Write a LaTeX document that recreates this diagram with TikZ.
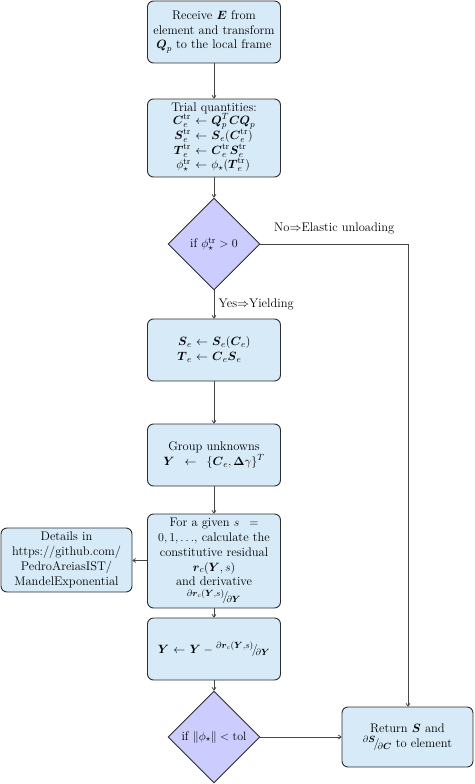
\documentclass[tikz,border=0pt]{standalone}
\usepackage{amsmath}
\usetikzlibrary{shapes.geometric,arrows.meta}
\definecolor{boxfill}{RGB}{214,234,248}
\definecolor{dfill}{RGB}{204,204,255}
\definecolor{edge}{RGB}{45,45,45}
\definecolor{conn}{RGB}{70,70,70}
\newcommand{\bs}[1]{\boldsymbol{#1}}
\newcommand{\nfr}[2]{{}^{#1}\!/\!{}_{#2}}
\begin{document}
\begin{tikzpicture}[x=1pt,y=-1pt,
  every node/.style={font=\fontsize{12.5}{14.8}\selectfont},
  procbox/.style={draw=edge,line width=0.9pt,fill=boxfill,rounded corners=6pt,
    minimum width=133pt,text width=126pt,align=center,inner sep=2pt},
  decide/.style={draw=edge,line width=0.9pt,fill=dfill,diamond,
    minimum width=92pt,minimum height=92pt,inner sep=0pt,align=center},
  flow/.style={draw=conn,line width=0.8pt,-{To[length=3.5pt,width=4.5pt]}},
  lbl/.style={font=\fontsize{12.5}{14.8}\selectfont}]
\useasboundingbox (0,0) rectangle (474,784);
\node[procbox,minimum height=62pt] (recv) at (214,32)
  {Receive $\bs{E}$ from element and transform $\bs{Q}_p$ to the local frame};
\node[procbox,minimum height=78pt,inner sep=1pt] (trial) at (214,138)
  {Trial quantities:\\[-2pt]
   $\renewcommand{\arraystretch}{0.88}\begin{array}{@{}r@{\ \leftarrow\ }l@{}}
   \bs{C}_e^{\rm tr} & \bs{Q}_p^T\bs{C}\bs{Q}_p\\
   \bs{S}_e^{\rm tr} & \bs{S}_e(\bs{C}_e^{\rm tr})\\
   \bs{T}_e^{\rm tr} & \bs{C}_e^{\rm tr}\bs{S}_e^{\rm tr}\\
   \phi_\star^{\rm tr} & \phi_\star(\bs{T}_e^{\rm tr})
   \end{array}$};
\node[decide] (ifphi) at (214,244) {if $\phi_\star^{\rm tr}>0$};
\node[procbox,minimum height=62pt] (stress) at (214,350)
  {$\begin{array}{@{}r@{\ \leftarrow\ }l@{}}
   \bs{S}_e & \bs{S}_e(\bs{C}_e)\\
   \bs{T}_e & \bs{C}_e\bs{S}_e
   \end{array}$};
\node[procbox,minimum height=62pt] (group) at (214,455)
  {Group unknowns\\ $\bs{Y}\;\leftarrow\;\{\bs{C}_e,\bs{\Delta}\gamma\}^T$};
\node[procbox,minimum height=94pt] (resid) at (214,561)
  {For a given $s\ =$\\ $0,1,\ldots$, calculate the\\ constitutive residual\\
   $\bs{r}_c(\bs{Y},s)$\\ and derivative\\
   $\nfr{\partial\bs{r}_c(\bs{Y},s)}{\partial\bs{Y}}$};
\node[procbox,minimum height=64pt,minimum width=131pt] (details) at (66.5,560)
  {Details in\\ https://github.com/\\ PedroAreiasIST/\\ MandelExponential};
\node[procbox,minimum height=62pt] (update) at (214,649)
  {$\bs{Y}\leftarrow\bs{Y}-\nfr{\partial\bs{r}_c(\bs{Y},s)}{\partial\bs{Y}}$};
\node[decide] (iftol) at (214,737) {if $\|\phi_\star\|<\mathrm{tol}$};
\node[procbox,minimum height=60pt,minimum width=131pt] (ret) at (407.5,737)
  {Return $\bs{S}$ and\\ $\nfr{\partial\bs{S}}{\partial\bs{C}}$ to element};
\coordinate (corner) at (408,244);
\draw[flow] (recv) -- (trial);
\draw[flow] (trial) -- (ifphi);
\draw[flow] (ifphi) -- node[lbl,right,pos=0.5,xshift=1pt] {Yes$\Rightarrow$Yielding} (stress);
\draw[flow] (ifphi.east) -- node[lbl,above,pos=0.5,yshift=6pt] {No$\Rightarrow$Elastic unloading} (corner) -- (ret.north -| corner);
\draw[flow] (stress) -- (group);
\draw[flow] (group) -- (resid);
\draw[flow] (resid) -- (details);
\draw[flow] (resid) -- (update);
\draw[flow] (update) -- (iftol);
\draw[flow] (iftol) -- (ret);
\end{tikzpicture}
\end{document}
